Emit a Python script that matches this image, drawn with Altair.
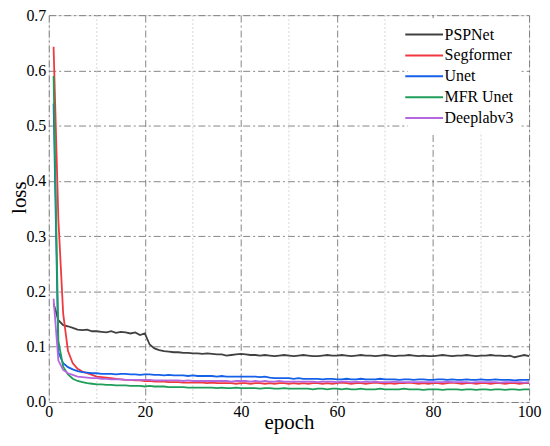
import altair as alt
import pandas as pd

series_names = ["PSPNet", "Segformer", "Unet", "MFR Unet", "Deeplabv3"]
series_colors = ["#404040", "#f0393f", "#1560e8", "#1f9e5a", "#b567e0"]

epochs = list(range(1, 101))

pspnet = [
    0.178, 0.148, 0.139, 0.137, 0.134, 0.131, 0.130, 0.131, 0.128, 0.128,
    0.127, 0.126, 0.128, 0.125, 0.127, 0.126, 0.124, 0.126, 0.121, 0.124,
    0.104, 0.097, 0.094, 0.092, 0.091, 0.090, 0.090, 0.089, 0.089, 0.088,
    0.088, 0.087, 0.088, 0.087, 0.086, 0.086, 0.084, 0.085, 0.086, 0.087,
    0.086, 0.085, 0.085, 0.084, 0.085, 0.084, 0.083, 0.084, 0.085, 0.084,
    0.083, 0.084, 0.085, 0.084, 0.083, 0.083, 0.084, 0.085, 0.084, 0.084,
    0.085, 0.084, 0.083, 0.084, 0.085, 0.084, 0.084, 0.083, 0.084, 0.085,
    0.084, 0.083, 0.084, 0.084, 0.085, 0.084, 0.083, 0.084, 0.083, 0.083,
    0.084, 0.085, 0.084, 0.083, 0.084, 0.084, 0.085, 0.084, 0.083, 0.084,
    0.084, 0.085, 0.084, 0.084, 0.083, 0.084, 0.081, 0.083, 0.085, 0.083,
]

segformer = [
    0.643, 0.330, 0.160, 0.092, 0.070, 0.060, 0.055, 0.052, 0.049, 0.046,
    0.045, 0.044, 0.043, 0.042, 0.041, 0.040, 0.040, 0.039, 0.039, 0.038,
    0.038, 0.037, 0.037, 0.037, 0.036, 0.036, 0.036, 0.035, 0.035, 0.035,
    0.035, 0.035, 0.034, 0.035, 0.034, 0.034, 0.034, 0.034, 0.033, 0.034,
    0.034, 0.033, 0.034, 0.034, 0.033, 0.034, 0.033, 0.034, 0.034, 0.033,
    0.034, 0.033, 0.034, 0.033, 0.034, 0.034, 0.033, 0.034, 0.033, 0.034,
    0.035, 0.034, 0.033, 0.034, 0.034, 0.033, 0.034, 0.035, 0.034, 0.033,
    0.034, 0.033, 0.034, 0.034, 0.035, 0.034, 0.033, 0.034, 0.033, 0.034,
    0.034, 0.033, 0.034, 0.035, 0.034, 0.033, 0.034, 0.034, 0.033, 0.034,
    0.034, 0.033, 0.034, 0.034, 0.033, 0.034, 0.034, 0.033, 0.034, 0.034,
]

unet = [
    0.540, 0.090, 0.070, 0.063, 0.059, 0.056, 0.054, 0.053, 0.052, 0.052,
    0.051, 0.051, 0.051, 0.050, 0.051, 0.051, 0.050, 0.050, 0.049, 0.050,
    0.050, 0.049, 0.049, 0.048, 0.049, 0.048, 0.048, 0.048, 0.047, 0.048,
    0.047, 0.047, 0.047, 0.047, 0.046, 0.047, 0.046, 0.046, 0.046, 0.046,
    0.046, 0.046, 0.046, 0.045, 0.046, 0.044, 0.043, 0.043, 0.043, 0.043,
    0.042, 0.043, 0.042, 0.042, 0.042, 0.042, 0.041, 0.042, 0.042, 0.041,
    0.041, 0.042, 0.041, 0.041, 0.042, 0.041, 0.041, 0.041, 0.042, 0.041,
    0.041, 0.041, 0.040, 0.041, 0.041, 0.040, 0.041, 0.041, 0.040, 0.040,
    0.041, 0.041, 0.040, 0.041, 0.040, 0.040, 0.041, 0.040, 0.040, 0.041,
    0.040, 0.040, 0.041, 0.040, 0.040, 0.040, 0.039, 0.040, 0.040, 0.040,
]

mfr_unet = [
    0.590, 0.110, 0.064, 0.050, 0.042, 0.038, 0.036, 0.034, 0.033, 0.032,
    0.032, 0.031, 0.031, 0.030, 0.030, 0.030, 0.029, 0.029, 0.029, 0.028,
    0.029, 0.028, 0.028, 0.028, 0.027, 0.027, 0.027, 0.027, 0.026, 0.026,
    0.026, 0.026, 0.026, 0.026, 0.025, 0.026, 0.025, 0.025, 0.026, 0.025,
    0.025, 0.025, 0.025, 0.024, 0.025, 0.025, 0.024, 0.024, 0.025, 0.024,
    0.024, 0.024, 0.024, 0.024, 0.023, 0.024, 0.024, 0.023, 0.024, 0.024,
    0.023, 0.024, 0.023, 0.023, 0.024, 0.023, 0.023, 0.023, 0.024, 0.023,
    0.023, 0.023, 0.023, 0.024, 0.023, 0.023, 0.023, 0.022, 0.023, 0.023,
    0.023, 0.022, 0.023, 0.023, 0.023, 0.022, 0.023, 0.023, 0.022, 0.023,
    0.023, 0.022, 0.023, 0.023, 0.022, 0.023, 0.023, 0.022, 0.023, 0.023,
]

deeplabv3 = [
    0.187, 0.075, 0.058, 0.052, 0.049, 0.046, 0.045, 0.044, 0.043, 0.043,
    0.042, 0.042, 0.041, 0.041, 0.041, 0.040, 0.040, 0.040, 0.040, 0.040,
    0.040, 0.039, 0.039, 0.039, 0.039, 0.039, 0.039, 0.038, 0.039, 0.038,
    0.038, 0.038, 0.038, 0.038, 0.038, 0.038, 0.038, 0.037, 0.038, 0.038,
    0.038, 0.037, 0.038, 0.037, 0.038, 0.037, 0.037, 0.038, 0.037, 0.037,
    0.037, 0.037, 0.037, 0.037, 0.037, 0.036, 0.037, 0.037, 0.037, 0.036,
    0.037, 0.037, 0.036, 0.037, 0.036, 0.037, 0.036, 0.037, 0.036, 0.036,
    0.036, 0.037, 0.036, 0.036, 0.036, 0.036, 0.036, 0.036, 0.036, 0.036,
    0.036, 0.036, 0.037, 0.036, 0.036, 0.036, 0.036, 0.035, 0.036, 0.036,
    0.036, 0.036, 0.036, 0.035, 0.036, 0.036, 0.036, 0.036, 0.035, 0.036,
]

x_ticks = [0, 20, 40, 60, 80, 100]
x_minor = [10, 30, 50, 70, 90]
y_ticks = [0.0, 0.1, 0.2, 0.3, 0.4, 0.5, 0.6, 0.7]

all_series = [pspnet, segformer, unet, mfr_unet, deeplabv3]
rows = []
for order, (name, vals) in enumerate(zip(series_names, all_series)):
    for e, v in zip(epochs, vals):
        rows.append({"epoch": e, "loss": v, "model": name, "order": order})
df = pd.DataFrame(rows)
minor_df = pd.DataFrame({"epoch": x_minor})

FONT = "Times New Roman, Liberation Serif, serif"

x_scale = alt.Scale(domain=[0, 100], nice=False, zero=False)
y_scale = alt.Scale(domain=[0, 0.7], nice=False)

minor = alt.Chart(minor_df).mark_rule(
    color="#cccccc", strokeDash=[2, 2], strokeWidth=0.8
).encode(x=alt.X("epoch:Q", scale=x_scale))

lines = alt.Chart(df).mark_line(strokeWidth=1.8).encode(
    x=alt.X(
        "epoch:Q",
        scale=x_scale,
        axis=alt.Axis(
            values=x_ticks, format="d", title="epoch",
            titleBaseline="alphabetic", titleY=27,
        ),
    ),
    y=alt.Y(
        "loss:Q",
        scale=y_scale,
        axis=alt.Axis(
            values=y_ticks, format=".1f", title="loss",
            titleBaseline="alphabetic",
            titleX=-23, titleY=183, titleAngle=270,
        ),
    ),
    color=alt.Color(
        "model:N",
        scale=alt.Scale(domain=series_names, range=series_colors),
        sort=series_names,
        legend=alt.Legend(
            title=None, orient="none", legendX=361, legendY=3,
            fillColor="white", padding=6,
            symbolType="M-2,0H2", symbolSize=361, symbolStrokeWidth=2,
            rowPadding=2,
        ),
    ),
    order=alt.Order("order:Q"),
    detail="model:N",
)

chart = alt.layer(minor, lines).properties(
    width=483,
    height=389,
    autosize=alt.AutoSizeParams(type="none"),
    padding={"left": 41, "top": 6, "right": 13, "bottom": 31},
).configure_view(
    stroke="black", strokeWidth=1.5
).configure(
    background="white", font=FONT
).configure_axis(
    grid=True, gridColor="#666666", gridDash=[7, 3, 2, 3], gridWidth=0.8,
    ticks=False, domain=False, labelFlush=False, labelOverlap=False,
    labelFont=FONT, labelFontSize=16, labelColor="black",
    titleFont=FONT, titleFontSize=21, titleFontWeight="normal", titleColor="black",
).configure_axisX(labelPadding=2).configure_axisY(labelPadding=3).configure_legend(
    labelFont=FONT, labelFontSize=16, labelColor="black", labelOffset=10,
)

chart.save("out.html", embed_options={"renderer": "svg", "actions": False})
